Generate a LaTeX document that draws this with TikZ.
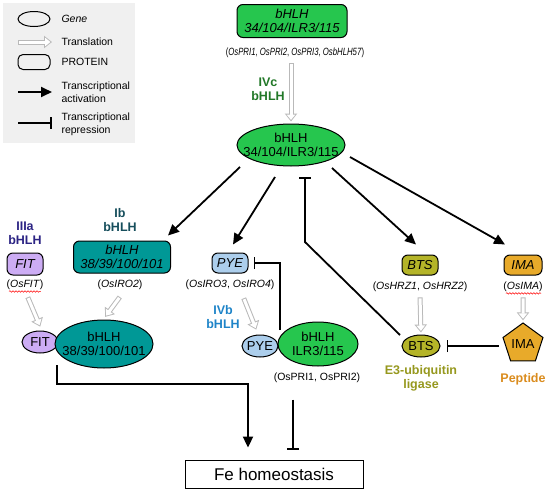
\documentclass[tikz,border=0pt]{standalone}
\usepackage{fontspec}
\setmainfont{Liberation Sans}
\usetikzlibrary{calc,arrows.meta,shapes.geometric,decorations.pathmorphing}

\definecolor{grnfill}{RGB}{38,198,78}
\definecolor{grntext}{RGB}{34,120,40}
\definecolor{tealfill}{RGB}{0,152,150}
\definecolor{tealtext}{RGB}{22,78,92}
\definecolor{lavfill}{RGB}{204,172,244}
\definecolor{lavtext}{RGB}{44,36,132}
\definecolor{bluefill}{RGB}{172,206,236}
\definecolor{bluetext}{RGB}{30,132,200}
\definecolor{olivefill}{RGB}{180,180,40}
\definecolor{olivetext}{RGB}{150,152,30}
\definecolor{orgfill}{RGB}{232,170,42}
\definecolor{orgtext}{RGB}{218,140,30}

\tikzset{
  gene/.style={draw, line width=1pt, rounded corners=6pt, align=center, inner sep=1pt,
    font=\fontsize{13}{14.5}\selectfont\itshape},
  prot/.style={draw, ellipse, line width=1pt, align=center, inner xsep=-20pt, inner ysep=-8pt,
    font=\fontsize{13}{14.5}\selectfont},
  paren/.style={font=\fontsize{10.5}{12}\selectfont},
  grp/.style={align=center, font=\fontsize{12.5}{14}\selectfont\bfseries},
  keytext/.style={anchor=west, align=left, font=\fontsize{10.5}{13}\selectfont},
  act/.style={line width=1.8pt, -{Triangle[length=11pt,width=10pt]}},
  rep/.style={line width=1.8pt, -{Bar[width=12pt]}},
  transl/.style={draw=white, line width=3pt, shorten >=3.6pt, shorten <=3pt,
    -{Triangle[length=5.4pt,width=8.4pt]},
    preaction={draw=gray!55, line width=5pt, shorten >=2pt, shorten <=2pt,
      -{Triangle[length=8pt,width=12pt]}}},
  wavy/.style={red, line width=0.5pt, decorate,
    decoration={snake, segment length=3pt, amplitude=0.8pt}},
}

\begin{document}
\begin{tikzpicture}[x=1pt, y=-1pt]
  \useasboundingbox (0,0) rectangle (550,493);

  % key
  \fill[gray!12] (3,3) rectangle (135,143);
  \node[draw, ellipse, line width=1pt, minimum width=32pt, minimum height=15pt] (k1) at (34,19) {};
  \node[keytext] (k1t) at (58,19) {\itshape Gene};
  \coordinate (k2a) at (16,42);
  \coordinate (k2b) at (54,42);
  \node[keytext] (k2t) at (58,42) {Translation};
  \node[draw, line width=1pt, rounded corners=5pt, minimum width=32pt, minimum height=15pt] (k3) at (34,62) {};
  \node[keytext] (k3t) at (58,62) {PROTEIN};
  \coordinate (k4a) at (18,92);
  \coordinate (k4b) at (52,92);
  \node[keytext] (k4t) at (58,92) {Transcriptional\\activation};
  \coordinate (k5a) at (18,123);
  \coordinate (k5b) at (52,123);
  \node[keytext] (k5t) at (58,124) {Transcriptional\\repression};
  \draw[transl] (k2a) -- (k2b);
  \draw[act] (k4a) -- (k4b);
  \draw[rep] (k5a) -- (k5b);

  % IVc
  \node[prot, fill=grnfill, minimum width=108pt, minimum height=42pt] (m) at (291,145) {bHLH\\34/104/ILR3/115};
  \node[gene, fill=grnfill, minimum width=110pt, minimum height=33pt] (g0) at ($(m) + (1,-124)$) {bHLH\\34/104/ILR3/115};
  \node[paren] (t0) at ($(m) + (4,-92)$) {\scalebox{0.74}[1]{(\textit{OsPRI1}, \textit{OsPRI2}, \textit{OsPRI3}, \textit{OsbHLH57})}};
  \node[grp, text=grntext] (ivc) at ($(m) + (-23,-56)$) {IVc\\bHLH};

  % IIIa and Ib
  \node[grp, text=lavtext] (iiia) at ($(m) + (-266,88)$) {IIIa\\bHLH};
  \node[gene, fill=lavfill, minimum width=36pt, minimum height=22pt] (g1) at ($(m) + (-266,119)$) {FIT};
  \node[paren] (t1) at ($(m) + (-266,140)$) {(\textit{OsFIT})};
  \node[grp, text=tealtext] (ib) at ($(m) + (-171,75)$) {Ib\\bHLH};
  \node[gene, fill=tealfill, minimum width=97pt, minimum height=32pt] (g2) at ($(m) + (-169,112)$) {bHLH\\38/39/100/101};
  \node[paren] (t2) at ($(m) + (-171,140)$) {(\textit{OsIRO2})};
  \node[prot, fill=lavfill, minimum width=36pt, minimum height=22pt] (p1) at ($(m) + (-251,197)$) {FIT};
  \node[prot, fill=tealfill, minimum width=98pt, minimum height=48pt] (p2) at ($(m) + (-187,199)$) {bHLH\\38/39/100/101};

  % IVb
  \node[gene, fill=bluefill, minimum width=36pt, minimum height=20pt] (g3) at ($(m) + (-61,118)$) {PYE};
  \node[paren] (t3) at ($(m) + (-61,140)$) {(\textit{OsIRO3}, \textit{OsIRO4})};
  \node[grp, text=bluetext] (ivb) at ($(m) + (-68,172)$) {IVb\\bHLH};
  \node[prot, fill=bluefill, minimum width=36pt, minimum height=22pt] (p3) at ($(m) + (-31,201)$) {PYE};
  \node[prot, fill=grnfill, minimum width=80pt, minimum height=44pt] (p4) at ($(m) + (27,199)$) {bHLH\\ILR3/115};
  \node[paren] (t6) at ($(m) + (26,233)$) {(OsPRI1, OsPRI2)};

  % BTS and IMA
  \node[gene, fill=olivefill, minimum width=36pt, minimum height=20pt] (g4) at ($(m) + (129,120)$) {BTS};
  \node[paren] (t4) at ($(m) + (129,142)$) {(\textit{OsHRZ1}, \textit{OsHRZ2})};
  \node[prot, fill=olivefill, minimum width=38pt, minimum height=22pt] (p5) at ($(m) + (130,201)$) {BTS};
  \node[grp, text=olivetext] (e3) at ($(m) + (130,233)$) {E3-ubiquitin\\ligase};
  \node[gene, fill=orgfill, minimum width=38pt, minimum height=20pt] (g5) at ($(m) + (232,120)$) {IMA};
  \node[paren] (t5) at ($(m) + (232,142)$) {(\textit{OsIMA})};
  \node[draw, line width=1pt, regular polygon, regular polygon sides=5, minimum size=42pt, inner sep=0pt,
    fill=orgfill, font=\fontsize{13}{14.5}\selectfont] (p6) at ($(m) + (232,199)$) {IMA};
  \node[grp, text=orgtext] (pep) at ($(m) + (232,234)$) {Peptide};

  % Fe
  \node[draw, line width=0.8pt, minimum width=178pt, minimum height=28pt,
    font=\fontsize{17}{19}\selectfont] (fe) at ($(m) + (-17,329)$) {Fe homeostasis};

  % spell marks
  \draw[wavy] ($(t1.south west)+(6,-2)$) -- ($(t1.south east)+(-6,-2)$);
  \draw[wavy] ($(t5.south west)+(6,-2)$) -- ($(t5.south east)+(-5,-2)$);

  % translation
  \draw[transl] (t0.south -| m) -- (m.north);
  \draw[transl] ($(t1.south)+(2,2)$) -- ($(p1.north)+(1,-2)$);
  \draw[transl] ($(t2.south)+(1,2)$) -- ($(p2.north)+(0,-1)$);
  \draw[transl] ($(t3.south)+(13,3)$) -- ($(p3.north)+(-3,-3)$);
  \draw[transl] (t4.south) -- (p5.north);
  \draw[transl] (t5.south) -- (p6.north);

  % activation and repression
  \draw[act] ($(m)+(-51,22)$) -- ($(g2.north east)+(-3,-5)$);
  \draw[act] ($(m)+(-16,32)$) -- ($(g3.north)+(3,-8)$);
  \draw[act] ($(m)+(41,23)$) -- ($(g4.north)+(-4,-10)$);
  \draw[act] ($(m)+(59,12)$) -- ($(g5.north)+(-18,-10)$);
  \draw[rep] ($(p5)+(-21,-11)$) -- ($(m)+(14,97)$) -- ($(m)+(14,32)$);
  \draw[rep, shorten >=5pt] ($(p4)+(-38,-14)$) |- (g3.east);
  \draw[rep, shorten >=6pt, shorten <=6pt] (p6.west |- p5) -- (p5.east);
  \draw[act] ($(p1)+(17,23)$) |- ($(fe.north)+(-26,-76)$) -- ($(fe.north)+(-26,-12)$);
  \draw[rep] ($(fe.north)+(19,-60)$) -- ($(fe.north)+(19,-10)$);
\end{tikzpicture}
\end{document}
